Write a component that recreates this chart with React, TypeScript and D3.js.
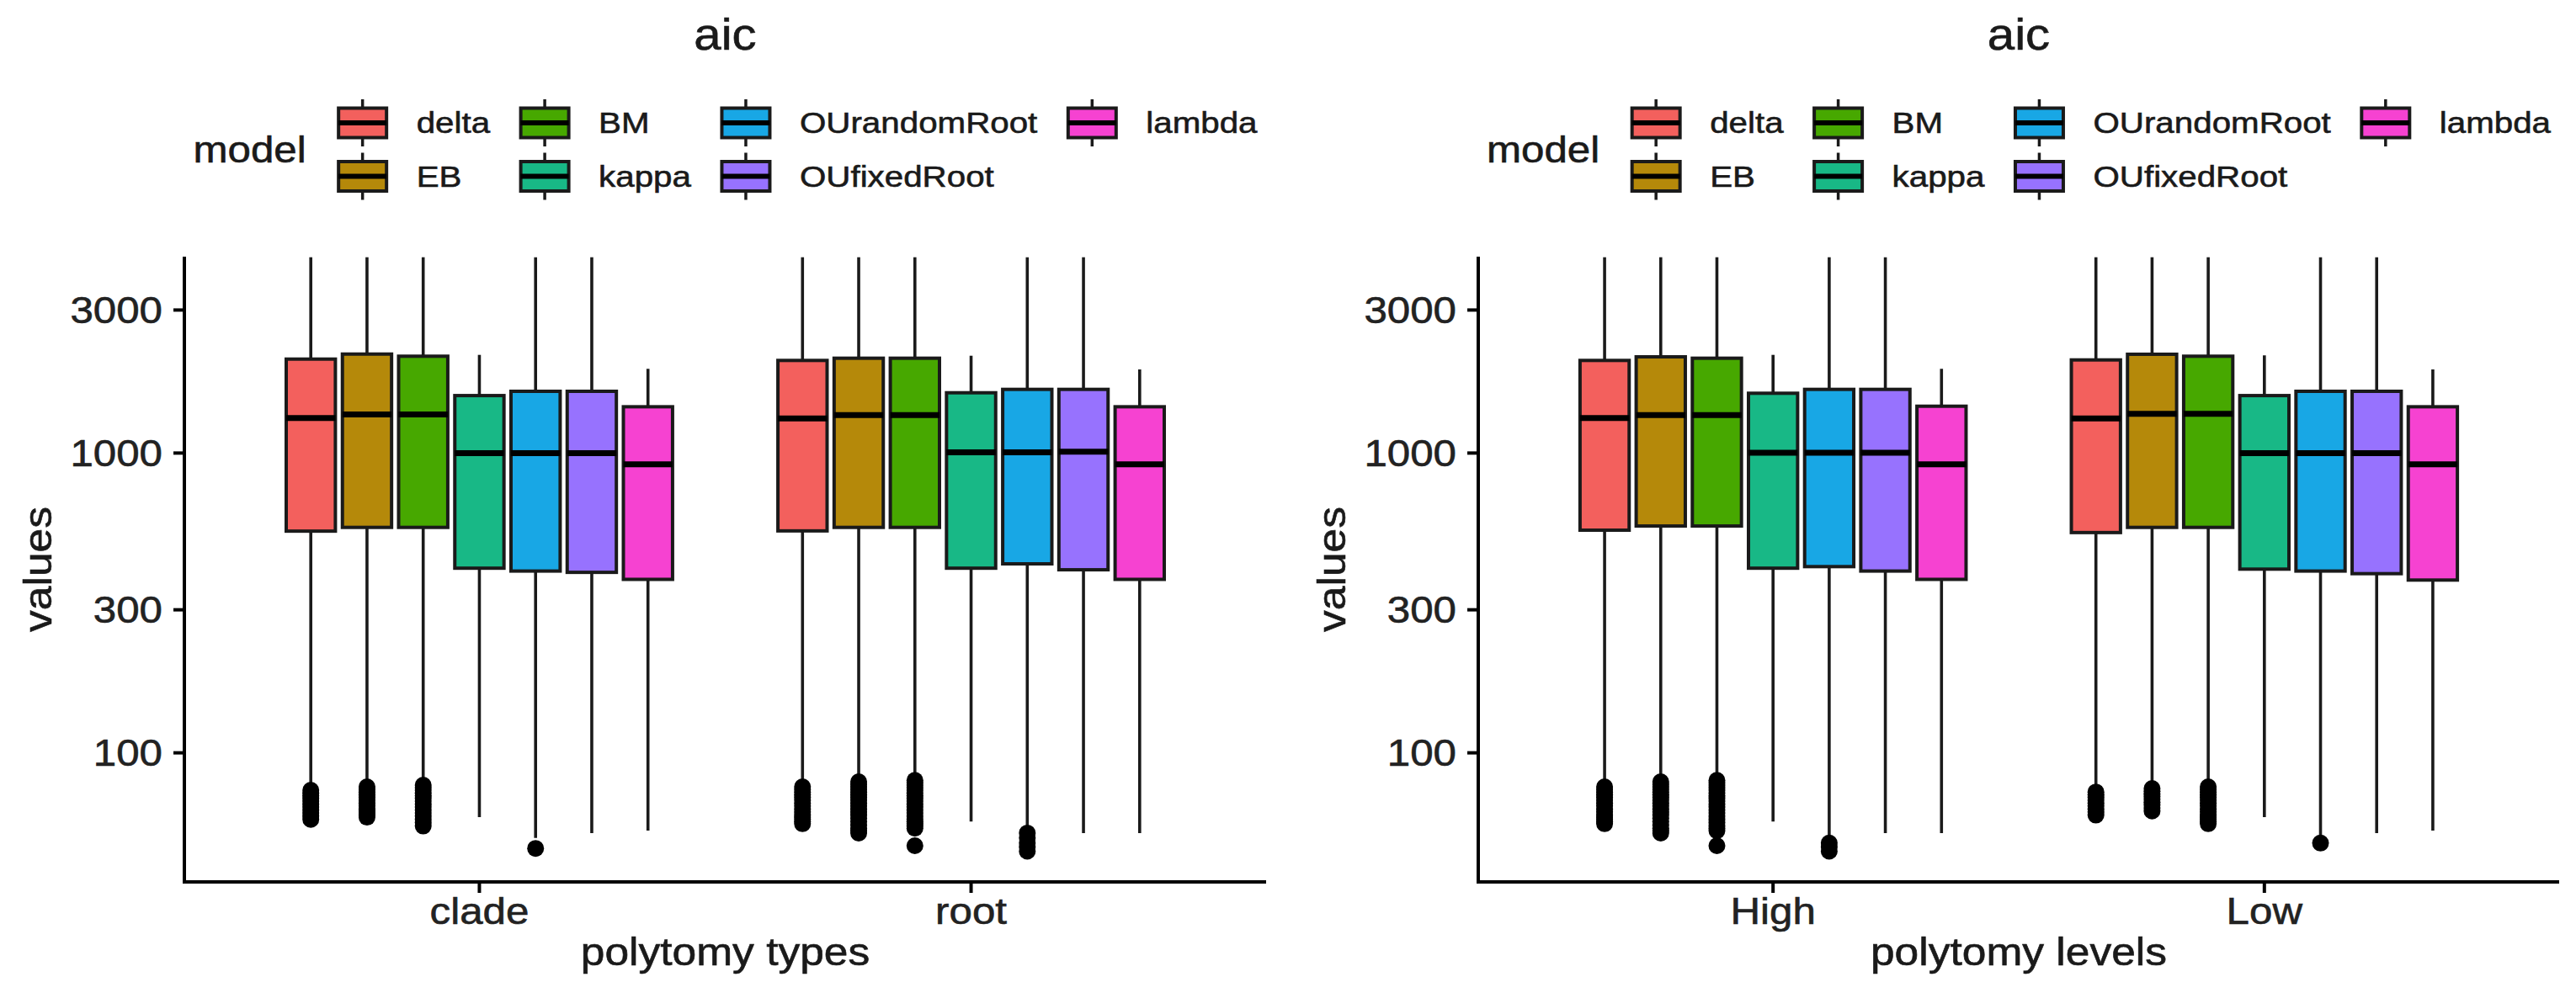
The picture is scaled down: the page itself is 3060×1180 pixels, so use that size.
import React from "react";
import * as d3 from "d3";

// models, in legend / dodge order
const models = ["delta", "EB", "BM", "kappa", "OUrandomRoot", "OUfixedRoot", "lambda"];
const modelColors = ["#F3605D", "#B5890A", "#47A800", "#18B886", "#18A7E5", "#9772FE", "#F642D1"];

const yTicks = [100, 300, 1000, 3000];

// left panel: polytomy types
const typeGroups = ["clade", "root"];
const typeQ1 = [
  [549, 565, 565, 413, 404, 400, 379],
  [550, 565, 565, 413, 427, 408, 379],
];
const typeMedian = [
  [1309, 1346, 1346, 1000, 1000, 1000, 917],
  [1304, 1338, 1338, 1006, 1006, 1010, 917],
];
const typeQ3 = [
  [2058, 2139, 2104, 1555, 1607, 1607, 1427],
  [2037, 2072, 2072, 1589, 1631, 1631, 1427],
];
const typeWhiskerLow = [
  [78, 80, 81, 61, 52, 54, 55],
  [80, 83, 84, 59, 57, 54, 54],
];
const typeWhiskerHigh = [
  [4500, 4500, 4500, 2126, 4500, 4500, 1910],
  [4500, 4500, 4500, 2112, 4500, 4500, 1901],
];
// outliers are dense: the listed values are read along each blob
const typeOutliers = [
  [
    [75, 73.5, 72, 70.5, 69, 67.5, 66, 64.5, 63, 61.5, 60],
    [77, 75.5, 74, 72.5, 71, 69.5, 68, 66.5, 65, 64, 63, 62, 61],
    [78, 76.5, 75, 73.5, 72, 70.5, 69, 67.5, 66, 64.5, 63, 61.5, 60, 58.5, 57],
    [],
    [48],
    [],
    [],
  ],
  [
    [77, 75.5, 74, 72.5, 71, 69.5, 68, 66.5, 65, 63.5, 62, 61, 60, 59, 58],
    [80, 78.5, 77, 75.5, 74, 72.5, 71, 69.5, 68, 66.5, 65, 63.5, 62, 60.5, 59, 57.5, 56, 55, 54],
    [81, 79.5, 78, 76.5, 75, 73.5, 72, 70.5, 69, 67.5, 66, 64.5, 63, 61.5, 60, 59, 58, 57, 56, 49],
    [],
    [54, 52, 50, 48.5, 47],
    [],
    [],
  ],
];

// right panel: polytomy levels
const levelGroups = ["High", "Low"];
const levelQ1 = [
  [553, 571, 571, 413, 418, 404, 379],
  [543, 565, 565, 410, 404, 396, 377],
];
const levelMedian = [
  [1309, 1338, 1338, 1002, 1002, 1002, 917],
  [1304, 1352, 1352, 1000, 1000, 1000, 917],
];
const levelQ3 = [
  [2037, 2094, 2072, 1583, 1631, 1631, 1433],
  [2045, 2136, 2104, 1555, 1607, 1607, 1427],
];
const levelWhiskerLow = [
  [80, 83, 84, 59, 53, 54, 54],
  [77, 79, 80, 61, 53, 54, 55],
];
const levelWhiskerHigh = [
  [4500, 4500, 4500, 2126, 4500, 4500, 1910],
  [4500, 4500, 4500, 2118, 4500, 4500, 1901],
];
const levelOutliers = [
  [
    [77, 75.5, 74, 72.5, 71, 69.5, 68, 66.5, 65, 63.5, 62, 61, 60, 59, 58],
    [80, 78.5, 77, 75.5, 74, 72.5, 71, 69.5, 68, 66.5, 65, 63.5, 62, 60.5, 59, 57.5, 56, 55, 54],
    [81, 79.5, 78, 76.5, 75, 73.5, 72, 70.5, 69, 67.5, 66, 64.5, 63, 61.5, 60, 58.5, 57, 56, 55, 49],
    [],
    [50, 48.5, 47],
    [],
    [],
  ],
  [
    [74, 72.5, 71, 69.5, 68, 66.5, 65, 63.5, 62],
    [76, 74.5, 73, 71.5, 70, 68.5, 67, 65.5, 64],
    [77, 75.5, 74, 72.5, 71, 69.5, 68, 66.5, 65, 63.5, 62, 61, 60, 59, 58],
    [],
    [50],
    [],
    [],
  ],
];

const W = 3060;
const H = 1180;
const FONT = '"Liberation Sans", Arial, Helvetica, sans-serif';
const SX = 1.12; // the picture's text is a bit wider than Arial
const INK = "#1a1a1a";

const panelTop = 305;
const panelBottom = 1048;

const ctx = document.createElement("canvas").getContext("2d")!;
function measure(s: string, size: number) {
  ctx.font = `${size}px ${FONT}`;
  return ctx.measureText(s).width * SX;
}

function Txt(props: {
  x: number;
  y: number;
  size: number;
  anchor?: "start" | "middle" | "end";
  rotate?: number;
  fill?: string;
  children: React.ReactNode;
}) {
  const { x, y, size, anchor = "start", rotate = 0, fill = INK } = props;
  return (
    <text
      transform={`translate(${x},${y}) rotate(${rotate}) scale(${SX},1)`}
      fontSize={size}
      fontFamily={FONT}
      textAnchor={anchor}
      fill={fill}
      stroke={fill}
      strokeWidth={0.6}
    >
      {props.children}
    </text>
  );
}

const y = d3.scaleLog().domain([37.1, 4520]).range([panelBottom, panelTop]);

interface PanelProps {
  x0: number;
  x1: number;
  groups: string[];
  q1: number[][];
  med: number[][];
  q3: number[][];
  wlo: number[][];
  whi: number[][];
  out: number[][][];
  xTitle: string;
}

function Legend({ center }: { center: number }) {
  const titleSize = 44;
  const labelSize = 36;
  const keyW = 76;
  const keyH = 70;
  const rowY = [146, 209.5];
  const cols = d3.range(Math.ceil(models.length / 2)).map((c) => models.slice(c * 2, c * 2 + 2));
  const titleW = measure("model", titleSize);
  const colW = cols.map((c) => keyW + 26 + (d3.max(c, (m) => measure(m, labelSize)) ?? 0));
  const total = titleW + 29 + d3.sum(colW) + 27 * (cols.length - 1);
  const start = center - total / 2;
  let cx = start + titleW + 29;
  const colX = colW.map((w) => {
    const v = cx;
    cx += w + 27;
    return v;
  });
  return (
    <g>
      <Txt x={start} y={(rowY[0] + rowY[1]) / 2 + 15} size={titleSize}>
        model
      </Txt>
      {cols.map((c, ci) =>
        c.map((m, ri) => {
          const mi = models.indexOf(m);
          const kx = colX[ci];
          const ky = rowY[ri] - keyH / 2;
          return (
            <g key={m}>
              <line x1={kx + keyW / 2} x2={kx + keyW / 2} y1={ky + keyH * 0.1} y2={ky + keyH * 0.9} stroke={INK} strokeWidth={3.5} />
              <rect
                x={kx + keyW * 0.125}
                y={ky + keyH * 0.25}
                width={keyW * 0.75}
                height={keyH * 0.5}
                fill={modelColors[mi]}
                stroke={INK}
                strokeWidth={4}
              />
              <line x1={kx + keyW * 0.125} x2={kx + keyW * 0.875} y1={rowY[ri]} y2={rowY[ri]} stroke="#000" strokeWidth={6} />
              <Txt x={kx + keyW + 26} y={rowY[ri] + 12} size={labelSize}>
                {m}
              </Txt>
            </g>
          );
        })
      )}
    </g>
  );
}

function Panel(p: PanelProps) {
  const x = d3.scalePoint<string>().domain(p.groups).range([p.x0, p.x1]).padding(0.6);
  const step = x.step();
  const slot = (0.8 * step) / models.length;
  const boxW = (0.7 * step) / models.length;
  const center = (p.x0 + p.x1) / 2;
  return (
    <g>
      <Txt x={center} y={59} size={52} anchor="middle">
        aic
      </Txt>
      <Legend center={center} />

      {p.groups.map((g, gi) =>
        models.map((m, mi) => {
          const cx = (x(g) ?? 0) + (mi - (models.length - 1) / 2) * slot;
          return (
            <g key={g + m}>
              <line x1={cx} x2={cx} y1={y(p.whi[gi][mi])} y2={y(p.q3[gi][mi])} stroke={INK} strokeWidth={3.6} />
              <line x1={cx} x2={cx} y1={y(p.q1[gi][mi])} y2={y(p.wlo[gi][mi])} stroke={INK} strokeWidth={3.6} />
              <rect
                x={cx - boxW / 2}
                y={y(p.q3[gi][mi])}
                width={boxW}
                height={y(p.q1[gi][mi]) - y(p.q3[gi][mi])}
                fill={modelColors[mi]}
                stroke={INK}
                strokeWidth={4}
              />
              <line
                x1={cx - boxW / 2}
                x2={cx + boxW / 2}
                y1={y(p.med[gi][mi])}
                y2={y(p.med[gi][mi])}
                stroke="#000"
                strokeWidth={7}
              />
              {p.out[gi][mi].map((v, k) => (
                <circle key={k} cx={cx} cy={y(v)} r={10} fill="#000" />
              ))}
            </g>
          );
        })
      )}

      {/* axes */}
      <line x1={p.x0} x2={p.x0} y1={panelTop} y2={panelBottom + 2} stroke="#000" strokeWidth={4} />
      <line x1={p.x0 - 2} x2={p.x1} y1={panelBottom} y2={panelBottom} stroke="#000" strokeWidth={4} />
      {yTicks.map((t) => (
        <g key={t}>
          <line x1={p.x0 - 13} x2={p.x0} y1={y(t)} y2={y(t)} stroke="#000" strokeWidth={4} />
          <Txt x={p.x0 - 26} y={y(t) + 15.5} size={44} anchor="end" fill="#222">
            {t}
          </Txt>
        </g>
      ))}
      {p.groups.map((g) => (
        <g key={g}>
          <line x1={x(g)} x2={x(g)} y1={panelBottom} y2={panelBottom + 13} stroke="#000" strokeWidth={4} />
          <Txt x={x(g) ?? 0} y={1098} size={44} anchor="middle" fill="#222">
            {g}
          </Txt>
        </g>
      ))}
      <Txt x={center} y={1147} size={46} anchor="middle">
        {p.xTitle}
      </Txt>
      <Txt x={p.x0 - 158} y={(panelTop + panelBottom) / 2} size={46} anchor="middle" rotate={-90}>
        values
      </Txt>
    </g>
  );
}

export default function App() {
  return (
    <svg
      width={W}
      height={H}
      viewBox={`0 0 ${W} ${H}`}
      style={{ position: "absolute", left: 0, top: 0, background: "#fff" }}
    >
      <rect width={W} height={H} fill="#fff" />
      <Panel
        x0={219}
        x1={1504}
        groups={typeGroups}
        q1={typeQ1}
        med={typeMedian}
        q3={typeQ3}
        wlo={typeWhiskerLow}
        whi={typeWhiskerHigh}
        out={typeOutliers}
        xTitle="polytomy types"
      />
      <Panel
        x0={1756}
        x1={3040}
        groups={levelGroups}
        q1={levelQ1}
        med={levelMedian}
        q3={levelQ3}
        wlo={levelWhiskerLow}
        whi={levelWhiskerHigh}
        out={levelOutliers}
        xTitle="polytomy levels"
      />
    </svg>
  );
}
